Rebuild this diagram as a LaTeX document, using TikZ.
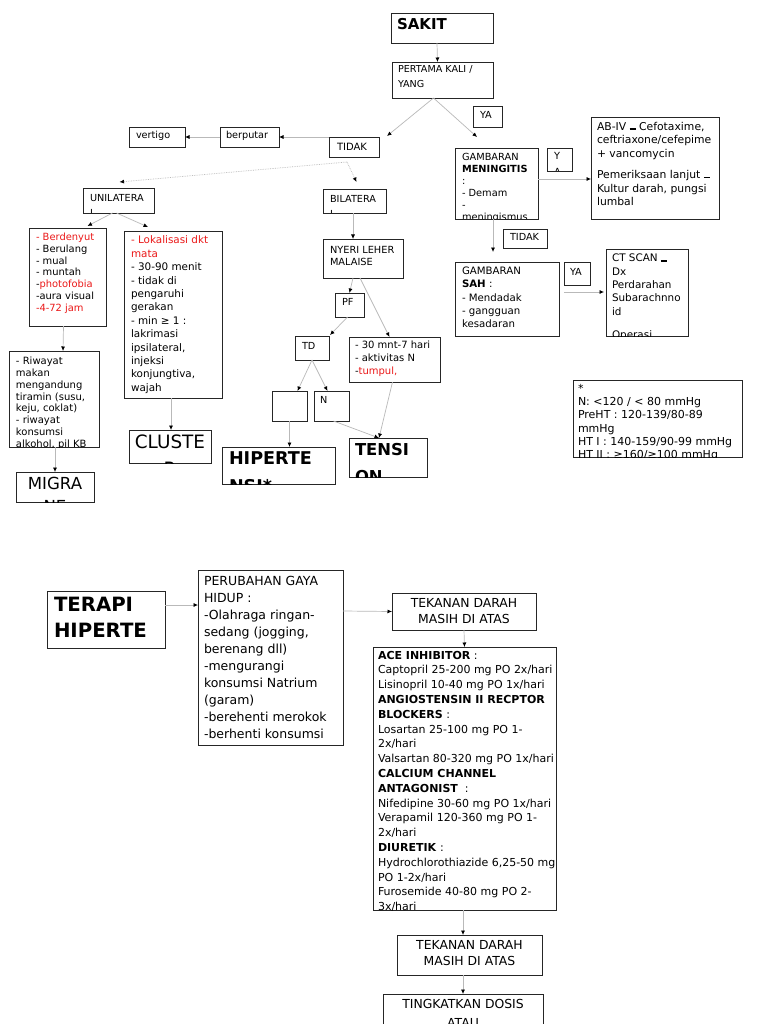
\documentclass[tikz,border=0pt]{standalone}
\usepackage{fontspec}
\setmainfont{DejaVu Sans}
\usetikzlibrary{arrows.meta}
\definecolor{merah}{RGB}{235,25,25}
\definecolor{abu}{RGB}{185,185,185}
\newcommand{\batang}{\rule[0pt]{6pt}{1.8pt}}
\newcommand{\mr}[1]{\textcolor{merah}{#1}}
% kotak dengan teks yang terpotong oleh tepinya
% #1 nama, #2 #3 kiri atas, #4 #5 kanan bawah, #6 gaya teks, #7 teks
\newcommand{\kotakteks}[7]{%
  \node[kotak, minimum width={(#4-#2)*1pt}, minimum height={(#5-#3)*1pt}]
    (#1) at ({(#2+#4)/2},{(#3+#5)/2}) {};
  \begin{scope}
    \clip (#1.south west) rectangle (#1.north east);
    \node[isi, at=(#1.north west), #6] (#1-isi) {#7};
  \end{scope}}

\begin{document}
\begin{tikzpicture}[x=1pt, y=-1pt,
  kotak/.style={draw=black!85, line width=0.8pt, inner sep=0pt, outer sep=0pt},
  isi/.style={anchor=north west, inner sep=0pt, outer sep=0pt, align=left},
  tengah/.style={anchor=north, align=center},
  panah/.style={draw=abu, line width=0.7pt, -{Latex[length=4.5pt,width=4pt,color=black]}},
  titik/.style={panah, densely dotted},
  hkecil/.style={font=\fontsize{9.7}{15}\selectfont},
  hdaftar/.style={font=\fontsize{9.9}{11.8}\selectfont},
  hsedang/.style={font=\fontsize{10.4}{13.4}\selectfont},
  hobat/.style={font=\fontsize{11}{14.8}\selectfont},
  hbesar/.style={font=\fontsize{12.5}{17}\selectfont},
  ]
  % latar
  \path[fill=white] (0,0) rectangle (768,1024);
  \useasboundingbox (0,0) rectangle (768,1024);

  % bagian atas: sakit kepala
  \kotakteks{sakit}{391}{13}{493}{43}{font=\bfseries\fontsize{15}{20}\selectfont, xshift=6pt, yshift=-5pt}{SAKIT}
  \kotakteks{pertama}{392}{62}{493}{98}{font=\fontsize{9.6}{14.7}\selectfont, xshift=6pt, yshift=-4pt}{PERTAMA KALI /\\YANG}
  \kotakteks{ya}{473}{106}{502}{127}{hkecil, xshift=7pt, yshift=-5pt}{YA}
  \kotakteks{tidak}{329}{137}{379}{157}{font=\fontsize{10}{13}\selectfont, xshift=8pt, yshift=-6pt}{TIDAK}
  \kotakteks{berputar}{220}{127}{279}{147}{hkecil, xshift=6pt, yshift=-4pt}{berputar}
  \kotakteks{vertigo}{129}{127}{185}{147}{hkecil, xshift=7pt, yshift=-4pt}{vertigo}

  % cabang unilateral
  \kotakteks{unilateral}{83}{188}{154}{213}{hkecil, xshift=7pt, yshift=-6pt}{UNILATERA\\L}
  \kotakteks{berdenyut}{29}{228}{106}{326}{hdaftar, xshift=7pt, yshift=-5pt}{%
    \mr{- Berdenyut}\\- Berulang\\- mual\\- muntah\\-\mr{photofobia}\\-aura visual\\\mr{-4-72 jam}}
  \kotakteks{lokalisasi}{124}{231}{222}{398}{hsedang, xshift=7pt, yshift=-5pt}{%
    \mr{- Lokalisasi dkt}\\\mr{mata}\\- 30-90 menit\\- tidak di\\pengaruhi\\gerakan\\- min ≥ 1 :\\lakrimasi\\ipsilateral,\\injeksi\\konjungtiva,\\wajah}
  \kotakteks{riwayat}{9}{351}{99}{447}{font=\fontsize{10}{11.8}\selectfont, xshift=7pt, yshift=-6pt}{%
    - Riwayat\\makan\\mengandung\\tiramin (susu,\\keju, coklat)\\- riwayat\\konsumsi\\alkohol, pil KB}
  \kotakteks{migraine}{16}{472}{94}{502}{at=(migraine.north), tengah, font=\fontsize{16.6}{23.5}\selectfont, yshift=-5pt}{MIGRA\\NE}
  \kotakteks{cluster}{129}{430}{211}{463}{at=(cluster.north), tengah, font=\fontsize{18.4}{27}\selectfont, yshift=-5pt}{CLUSTE\\R}

  % cabang bilateral
  \kotakteks{bilateral}{323}{189}{386}{213}{hkecil, xshift=7pt, yshift=-6pt}{BILATERA\\L}
  \kotakteks{nyeri}{323}{239}{403}{278}{font=\fontsize{9.8}{12}\selectfont, xshift=7pt, yshift=-7pt}{NYERI LEHER\\MALAISE}
  \kotakteks{pf}{335}{293}{364}{317}{hkecil, xshift=7pt, yshift=-5pt}{PF}
  \kotakteks{td}{295}{336}{329}{360}{hkecil, xshift=7pt, yshift=-6pt}{TD}
  \kotakteks{tigapuluh}{349}{337}{440}{382}{font=\fontsize{10}{13}\selectfont, xshift=6pt, yshift=-4pt}{%
    - 30 mnt-7 hari\\- aktivitas N\\-\mr{tumpul,}}
  \node[kotak, minimum width=35pt, minimum height=30pt] (kosong) at (289.5,406) {};
  \kotakteks{normal}{314}{391}{349}{421}{hkecil, xshift=6pt, yshift=-5pt}{N}
  \kotakteks{hipertensi}{222}{447}{335}{484}{font=\bfseries\fontsize{17.6}{28}\selectfont, xshift=7pt, yshift=-5pt}{HIPERTE\\NSI*}
  \kotakteks{tensi}{349}{438}{427}{477}{font=\bfseries\fontsize{16.4}{27}\selectfont, xshift=6pt, yshift=-5pt}{TENSI\\ON}

  % cabang ya
  \kotakteks{meningitis}{455}{148}{538}{219}{font=\fontsize{9.8}{12}\selectfont, xshift=7pt, yshift=-5pt}{%
    GAMBARAN\\\textbf{MENINGITIS}\\:\\- Demam\\-\\meningismus}
  \kotakteks{yb}{547}{148}{572}{171}{font=\fontsize{9.8}{16}\selectfont, xshift=7pt, yshift=-4pt}{Y\\A}
  \kotakteks{abiv}{591}{117}{719}{219}{font=\fontsize{10.8}{13.7}\selectfont, xshift=6pt, yshift=-5pt}{%
    AB-IV \batang{} Cefotaxime,\\ceftriaxone/cefepime\\+ vancomycin\\[7pt]Pemeriksaan lanjut \batang\\Kultur darah, pungsi\\lumbal}
  \kotakteks{tidakdua}{503}{229}{547}{248}{hkecil, xshift=7pt, yshift=-4pt}{TIDAK}
  \kotakteks{sah}{455}{262}{559}{336}{font=\fontsize{10.2}{13.3}\selectfont, xshift=7pt, yshift=-5pt}{%
    GAMBARAN\\\textbf{SAH} :\\- Mendadak\\- gangguan\\kesadaran}
  \kotakteks{yc}{564}{262}{590}{285}{hkecil, xshift=6pt, yshift=-6pt}{YA}
  \kotakteks{ctscan}{606}{249}{688}{336}{hsedang, xshift=6pt, yshift=-5pt}{%
    CT SCAN \batang\\Dx\\Perdarahan\\Subarachnno\\id\\[10pt]Operasi}
  \kotakteks{tensidarah}{573}{380}{742}{457}{font=\fontsize{11}{13.3}\selectfont, xshift=5pt, yshift=-4pt}{%
    *\\N: <120 / < 80 mmHg\\PreHT : 120-139/80-89\\mmHg\\HT I : 140-159/90-99 mmHg\\HT II : ≥160/≥100 mmHg}

  % panah bagian atas
  \draw[panah] ([xshift=-5pt]sakit.south) -- ([xshift=-5pt]pertama.north);
  \draw[panah] ([xshift=-9pt]pertama.south) -- ([shift={(8,-1)}]tidak.north east);
  \draw[panah] ([xshift=-9pt]pertama.south) -- ([shift={(22,-11)}]meningitis.north west);
  \draw[panah] (tidak.north west) -- (berputar.east);
  \draw[panah] (berputar.west) -- (vertigo.east);
  \coordinate (cabang) at ([shift={(-7,5)}]tidak.south);
  \draw[titik] (cabang) -- ([shift={(1,-6)}]unilateral.north);
  \draw[titik] (cabang) -- ([shift={(2,-7)}]bilateral.north);
  \draw[panah] ([xshift=-6pt]unilateral.south) -- ([shift={(20,-2)}]berdenyut.north);
  \draw[panah] ([xshift=-2pt]unilateral.south) -- ([shift={(-25,-4)}]lokalisasi.north);
  \draw[panah] ([xshift=-4pt]berdenyut.south) -- ([xshift=9pt]riwayat.north);
  \draw[panah] ([xshift=1pt]riwayat.south) -- (migraine.north);
  \draw[panah] ([xshift=-2pt]lokalisasi.south) -- ([xshift=1pt]cluster.north);
  \draw[panah] ([xshift=-1.5pt]bilateral.south) -- ([xshift=-10pt]nyeri.north);
  \draw[panah] ([xshift=-10pt]nyeri.south) -- (pf.north);
  \draw[panah] ([xshift=-3pt]nyeri.south) -- ([xshift=-5pt]tigapuluh.north);
  \draw[panah] ([xshift=-2pt]pf.south) -- ([shift={(1,-1)}]td.north east);
  \draw[panah] (td.south) -- ([xshift=8pt]kosong.north);
  \draw[panah] (td.south) -- ([xshift=-4pt]normal.north);
  \draw[panah] (kosong.south) -- ([xshift=11pt]hipertensi.north);
  \draw[panah] ([xshift=2pt]normal.south) -- ([xshift=-9pt]tensi.north);
  \draw[panah] ([xshift=-2pt]tigapuluh.south) -- ([xshift=-9pt]tensi.north);
  \draw[panah] ([yshift=4.5pt]meningitis.east) -- ([yshift=-11pt]abiv.west);
  \draw[panah] ([xshift=-3.5pt]meningitis.south) -- ([shift={(-14,-10)}]sah.north);
  \draw[panah] ([shift={(5,-7)}]sah.east) -- ([shift={(-2,-0.5)}]ctscan.west);

  % bagian bawah: terapi hipertensi
  \kotakteks{terapi}{47}{591}{165}{648}{font=\bfseries\fontsize{19.7}{26.5}\selectfont, xshift=7pt, yshift=-6pt}{TERAPI\\HIPERTE}
  \kotakteks{perubahan}{198}{570}{343}{745}{hbesar, xshift=6pt, yshift=-6.5pt}{%
    PERUBAHAN GAYA\\HIDUP :\\-Olahraga ringan-\\sedang (jogging,\\berenang dll)\\-mengurangi\\konsumsi Natrium\\(garam)\\-berehenti merokok\\-berhenti konsumsi}
  \kotakteks{tekanansatu}{392}{593}{536}{630}{at=(tekanansatu.north), tengah, font=\fontsize{12.4}{16}\selectfont, yshift=-5pt}{TEKANAN DARAH\\MASIH DI ATAS}
  \kotakteks{obat}{373}{647}{556}{910}{hobat, xshift=5pt, yshift=-4pt}{%
    \textbf{ACE INHIBITOR} :\\
    Captopril 25-200 mg PO 2x/hari\\
    Lisinopril 10-40 mg PO 1x/hari\\
    \textbf{ANGIOSTENSIN II RECPTOR}\\
    \textbf{BLOCKERS} :\\
    Losartan 25-100 mg PO 1-\\
    2x/hari\\
    Valsartan 80-320 mg PO 1x/hari\\
    \textbf{CALCIUM CHANNEL}\\
    \textbf{ANTAGONIST} \ :\\
    Nifedipine 30-60 mg PO 1x/hari\\
    Verapamil 120-360 mg PO 1-\\
    2x/hari\\
    \textbf{DIURETIK} :\\
    Hydrochlorothiazide 6,25-50 mg\\
    PO 1-2x/hari\\
    Furosemide 40-80 mg PO 2-\\
    3x/hari}
  \kotakteks{tekanandua}{397}{935}{542}{975}{at=(tekanandua.north), tengah, font=\fontsize{12.4}{16}\selectfont, yshift=-5pt}{TEKANAN DARAH\\MASIH DI ATAS}
  \kotakteks{tingkatkan}{383}{994}{543}{1040}{at=(tingkatkan.north), tengah, font=\fontsize{12.4}{19}\selectfont, yshift=-5pt}{TINGKATKAN DOSIS\\ATAU}

  % panah bagian bawah
  \draw[panah] ([yshift=14.5pt]terapi.east) -- ([yshift=52.5pt]perubahan.west);
  \draw[panah] ([yshift=46.5pt]perubahan.east) -- (tekanansatu.west);
  \draw[panah] (tekanansatu.south) -- (obat.north);
  \draw[panah] ([xshift=-1.5pt]obat.south) -- ([xshift=-6.5pt]tekanandua.north);
  \draw[panah] ([xshift=-6.5pt]tekanandua.south) -- (tingkatkan.north);
\end{tikzpicture}
\end{document}
